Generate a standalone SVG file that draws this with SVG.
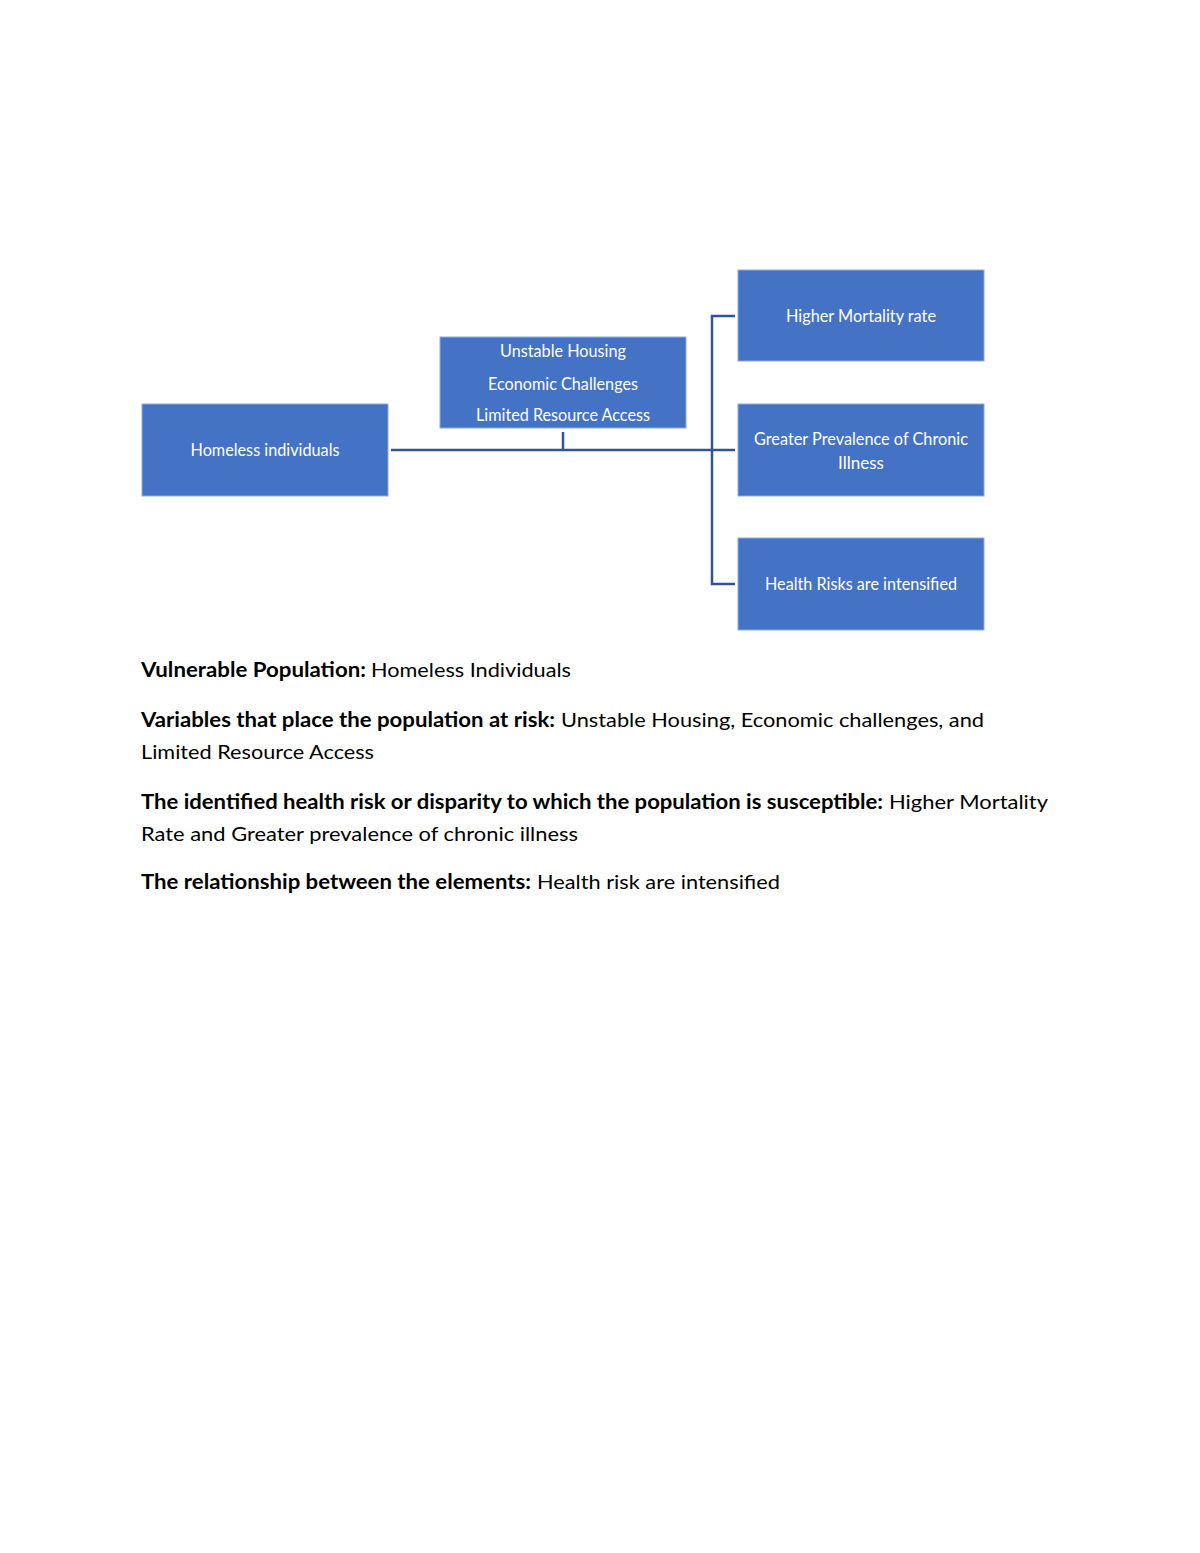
<svg xmlns="http://www.w3.org/2000/svg" width="1200" height="1553" viewBox="0 0 1200 1553">
<style>
.box{fill:#4472C4;stroke:#8FAADC;stroke-width:1}
.bt{font-family:Lato,"Liberation Sans",sans-serif;font-size:17px;fill:#ffffff;text-anchor:middle}
.conn{fill:none;stroke:#2F5597;stroke-width:2.5}
.b{font-family:Lato,"Liberation Sans",sans-serif;font-size:20px;font-weight:bold;fill:#000}
.r{font-family:Lato,"Liberation Sans",sans-serif;font-size:20px;fill:#000}
</style>
<rect width="1200" height="1553" fill="#ffffff"/>
<g id="connectors">
<path class="conn" d="M391 450 H735"/>
<path class="conn" d="M563 432 V450"/>
<path class="conn" d="M735 316 H712 V584 H735"/>
</g>
<g id="homeless">
<rect class="box" x="142" y="404" width="246" height="92"/>
<text class="bt" x="265" y="456" textLength="149" lengthAdjust="spacingAndGlyphs">Homeless individuals</text>
</g>
<g id="variables">
<rect class="box" x="440" y="337" width="246" height="91"/>
<text class="bt" x="563" y="357" textLength="126" lengthAdjust="spacingAndGlyphs">Unstable Housing</text>
<text class="bt" x="563" y="390" textLength="150" lengthAdjust="spacingAndGlyphs">Economic Challenges</text>
<text class="bt" x="563" y="421" textLength="174" lengthAdjust="spacingAndGlyphs">Limited Resource Access</text>
</g>
<g id="mortality">
<rect class="box" x="738" y="270" width="246" height="91"/>
<text class="bt" x="861" y="322" textLength="150" lengthAdjust="spacingAndGlyphs">Higher Mortality rate</text>
</g>
<g id="chronic">
<rect class="box" x="738" y="404" width="246" height="92"/>
<text class="bt" x="861" y="445" textLength="214" lengthAdjust="spacingAndGlyphs">Greater Prevalence of Chronic</text>
<text class="bt" x="861" y="469">Illness</text>
</g>
<g id="intensified">
<rect class="box" x="738" y="538" width="246" height="92"/>
<text class="bt" x="861" y="590" textLength="192" lengthAdjust="spacingAndGlyphs">Health Risks are intensified</text>
</g>
<g id="notes">
<text class="b" x="141" y="677" textLength="225" lengthAdjust="spacingAndGlyphs">Vulnerable Population:</text>
<text class="r" x="371" y="677" textLength="200" lengthAdjust="spacingAndGlyphs">Homeless Individuals</text>
<text class="b" x="141" y="727" textLength="414" lengthAdjust="spacingAndGlyphs">Variables that place the population at risk:</text>
<text class="r" x="561" y="727" textLength="423" lengthAdjust="spacingAndGlyphs">Unstable Housing, Economic challenges, and</text>
<text class="r" x="141" y="759" textLength="233" lengthAdjust="spacingAndGlyphs">Limited Resource Access</text>
<text class="b" x="141" y="809" textLength="742" lengthAdjust="spacingAndGlyphs">The identified health risk or disparity to which the population is susceptible:</text>
<text class="r" x="889" y="809" textLength="159" lengthAdjust="spacingAndGlyphs">Higher Mortality</text>
<text class="r" x="141" y="841" textLength="437" lengthAdjust="spacingAndGlyphs">Rate and Greater prevalence of chronic illness</text>
<text class="b" x="141" y="889" textLength="390" lengthAdjust="spacingAndGlyphs">The relationship between the elements:</text>
<text class="r" x="537" y="889" textLength="243" lengthAdjust="spacingAndGlyphs">Health risk are intensified</text>
</g>
</svg>
